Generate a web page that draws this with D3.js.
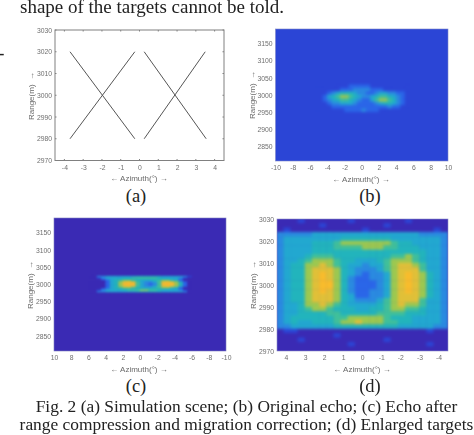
<!DOCTYPE html>
<html><head><meta charset="utf-8">
<script src="https://cdn.jsdelivr.net/npm/d3@7"></script>
<style>
html,body{margin:0;padding:0;background:#fff;overflow:hidden}
svg{display:block}
.tick text{font:6.8px "Liberation Sans",Arial,sans-serif;fill:#6f6f6f}
.lab{font:8px "Liberation Sans",Arial,sans-serif;fill:#6a6a6a}
.soft{filter:blur(.35px)}
.cap{font-family:"Liberation Serif","Times New Roman",serif;fill:#222}
</style></head><body>
<script>
// ---------- text ----------
const topLine = "shape of the targets cannot be told.";
const captionLines = ["Fig. 2 (a) Simulation scene; (b) Original echo; (c) Echo after",
                      "range compression and migration correction; (d) Enlarged targets"];
const xTitle = "\u2190 Azimuth(\u00b0) \u2192", yTitle = "Range(m)\u00a0\u00a0\u2192";

// ---------- panel (a): scatterer tracks ----------
const aXTicks = [-4,-3,-2,-1,0,1,2,3,4];
const aYTicks = [3030,3020,3010,3000,2990,2980,2970];
const aTrack1 = [[-3.7,3020],[-0.25,2980]];
const aTrack2 = [[-3.7,2980],[-0.25,3020]];
const aTrack3 = [[0.25,3020],[3.55,2980]];
const aTrack4 = [[0.25,2980],[3.5,3020]];

// ---------- shared colour levels ----------
const levelStops = [0,1,2,3,4,5,6,7,8,9];
const levelColours = ["#3a2ab4","#2b45d6","#2a66e8","#2a8ae0","#22a8d0","#22b4bc","#40c09a","#9cc850","#e0c038","#f8bc2c"];

// ---------- panel (b): original echo ----------
const bXTicks = [-10,-8,-6,-4,-2,0,2,4,6,8,10];
const rangeTicks = [3150,3100,3050,3000,2950,2900,2850];
const bBackground = 1;
const bAzimuthEdges = [-6,6];
const bRangeEdges = [3040,2940];
const bRows = [
"111111111111111111111111",
"111111111222221111111111",
"111111122233332221111111",
"111123455543322344332211",
"111245677654334566543211",
"111234566543224677653211",
"111123344432222345543211",
"111112222222222222322111",
"111111112222322211111111",
"111111111111111111111111"];

// ---------- panel (c): after compression ----------
const cXTicks = [10,8,6,4,2,0,-2,-4,-6,-8,-10];
const cBackground = 0;
const cAzimuthEdges = [6,-6];
const cRangeEdges = [3028,2972];
const cRows = [
"000000000000000000000000",
"003344444445555554444431",
"001344445566666654444310",
"000234555555555555544200",
"000024567765444567765200",
"000024578986433468987520",
"000024579996432369997520",
"000024579996432369997520",
"000024578986433468987520",
"000024567765444567765200",
"000234555555555555544200",
"001344445666776654444310",
"003344444445555554444430",
"000000000000000000000000"];

// ---------- panel (d): enlarged targets ----------
const dXTicks = [4,3,2,1,0,-1,-2,-3,-4];
const dBackground = 0;
const dAzimuthEdges = [4.5,-4.5];
const dRangeEdges = [3030,2970];
const dRows = [
"000100000010000000100000",
"000000100000000100000000",
"010000000000100000000010",
"333334444444444444443333",
"344444444555555544444443",
"344445556777777765544443",
"344445556666777665554443",
"344445555555555555555443",
"344456665555555566765443",
"344567776554445677765443",
"345577876544344678876443",
"345578887543334678886443",
"345578987543233478987543",
"345578987532233478987543",
"345578997532223478987543",
"345578997532223478987543",
"345578987532233478987543",
"345578887542233478887543",
"345578887543334678886443",
"344577876544445678776443",
"344567765554455677665443",
"344555566555556666555443",
"345555556677777655544443",
"345445556778777665544443",
"334444445555555554444433",
"011000000000000000000100",
"000000001000000000000000",
"000100000000000100000000",
"000000000010000000000100",
"000000000000000000000000"];

// ---------- page ----------
const W=474,H=435;
const svg=d3.select("body").append("svg").attr("width",W).attr("height",H);
const defs=svg.append("defs");
const colour=d3.scaleLinear().domain(levelStops).range(levelColours).clamp(true);
const tickText=d=>String(d);

function frame(box,xs,ys,xt,yt,tick,line){
  const g=svg.append("g").attr("class","soft");
  const ax=d3.axisBottom(xs).tickValues(xt).tickSize(0).tickPadding(box.xPad).tickFormat(tickText);
  const ay=d3.axisLeft(ys).tickValues(yt).tickSize(0).tickPadding(box.yPad).tickFormat(tickText);
  const gx=g.append("g").attr("transform",`translate(0,${box.y1})`).call(ax);
  const gy=g.append("g").attr("transform",`translate(${box.x0},0)`).call(ay);
  [gx,gy].forEach(s=>s.select(".domain").remove());
  // inward tick marks
  g.selectAll(null).data(xt).join("line").attr("x1",d=>xs(d)).attr("x2",d=>xs(d)).attr("y1",box.y1).attr("y2",box.y1-tick).attr("stroke",line);
  g.selectAll(null).data(xt).join("line").attr("x1",d=>xs(d)).attr("x2",d=>xs(d)).attr("y1",box.y0).attr("y2",box.y0+tick).attr("stroke",line);
  g.selectAll(null).data(yt).join("line").attr("x1",box.x0).attr("x2",box.x0+tick).attr("y1",d=>ys(d)).attr("y2",d=>ys(d)).attr("stroke",line);
  g.selectAll(null).data(yt).join("line").attr("x1",box.x1).attr("x2",box.x1-tick).attr("y1",d=>ys(d)).attr("y2",d=>ys(d)).attr("stroke",line);
  g.append("rect").attr("x",box.x0).attr("y",box.y0).attr("width",box.x1-box.x0).attr("height",box.y1-box.y0)
    .attr("fill","none").attr("stroke",line).attr("stroke-width",box.sw||1);
  g.append("text").attr("class","lab").attr("text-anchor","middle").attr("x",box.xlx).attr("y",box.xly).text(xTitle);
  g.append("text").attr("class","lab").attr("text-anchor","middle")
    .attr("transform",`translate(${box.ylx},${box.yly}) rotate(-90)`).text(yTitle);
  svg.append("text").attr("class","cap").attr("font-size",18.5).attr("text-anchor","middle")
    .attr("x",box.capX).attr("y",box.capY).text(box.cap);
}

function heat(id,box,xs,ys,azEdges,rgEdges,rows,bg,blur){
  const parsed=rows.map(r=>r.split("").map(Number));
  const az=d3.scaleLinear().domain([0,parsed[0].length]).range(azEdges);
  const rg=d3.scaleLinear().domain([0,parsed.length]).range(rgEdges);
  defs.append("clipPath").attr("id","clip"+id).append("rect")
    .attr("x",box.x0).attr("y",box.y0).attr("width",box.x1-box.x0).attr("height",box.y1-box.y0);
  const f=defs.append("filter").attr("id","blur"+id).attr("x","-10%").attr("y","-10%").attr("width","120%").attr("height","120%")
    .attr("color-interpolation-filters","sRGB");
  f.append("feGaussianBlur").attr("stdDeviation",blur);
  const outer=svg.append("g").attr("clip-path",`url(#clip${id})`);
  const inner=outer.append("g").attr("filter",`url(#blur${id})`);
  inner.append("rect").attr("x",box.x0-12).attr("y",box.y0-12).attr("width",box.x1-box.x0+24).attr("height",box.y1-box.y0+24).attr("fill",colour(bg));
  const cells=parsed.flatMap((row,r)=>row.map((v,c)=>({r,c,v})));
  inner.selectAll(null).data(cells).join("rect")
    .attr("x",d=>Math.min(xs(az(d.c)),xs(az(d.c+1)))-.2)
    .attr("y",d=>ys(rg(d.r))-.2)
    .attr("width",d=>Math.abs(xs(az(d.c+1))-xs(az(d.c)))+.4)
    .attr("height",d=>ys(rg(d.r+1))-ys(rg(d.r))+.4)
    .attr("fill",d=>colour(d.v));
}

// (a)
{
  const box={x0:55,x1:224,y0:30,y1:160.5,xPad:4.5,yPad:3,xlx:139,xly:181,ylx:34,yly:96,capX:136,capY:202,cap:"(a)"};
  const x=d3.scaleLinear().domain([-4.5,4.5]).range([box.x0,box.x1]);
  const y=d3.scaleLinear().domain([2970,3030]).range([box.y1,box.y0]);
  const l=d3.line().x(d=>x(d[0])).y(d=>y(d[1]));
  frame(box,x,y,aXTicks,aYTicks,1.5,"#808080");
  svg.append("g").attr("class","soft").selectAll("path").data([aTrack1,aTrack2,aTrack3,aTrack4]).join("path")
    .attr("d",l).attr("fill","none").attr("stroke","#555").attr("stroke-width",1);
}
// (b)
{
  const box={x0:275.5,x1:448,y0:29,y1:161,xPad:4.5,yPad:3,xlx:361,xly:182,ylx:255,yly:95,capX:370,capY:202,cap:"(b)",sw:.6};
  const x=d3.scaleLinear().domain([-10,10]).range([box.x0,box.x1]);
  const y=d3.scaleLinear().domain([2808,3192]).range([box.y1,box.y0]);
  heat("b",box,x,y,bAzimuthEdges,bRangeEdges,bRows,bBackground,1.5);
  frame(box,x,y,bXTicks,rangeTicks,0,"#7d86c8");
}
// (c)
{
  const box={x0:54,x1:226,y0:218,y1:351,xPad:4.5,yPad:3,xlx:139,xly:372,ylx:33,yly:285,capX:136,capY:392,cap:"(c)",sw:.6};
  const x=d3.scaleLinear().domain([10,-10]).range([box.x0,box.x1]);
  const y=d3.scaleLinear().domain([2806,3193]).range([box.y1,box.y0]);
  heat("c",box,x,y,cAzimuthEdges,cRangeEdges,cRows,cBackground,.8);
  frame(box,x,y,cXTicks,rangeTicks,0,"#7d7dc0");
}
// (d)
{
  const box={x0:277,x1:448,y0:219,y1:351,xPad:4.5,yPad:3,xlx:362,xly:372,ylx:256,yly:285,capX:370,capY:392,cap:"(d)",sw:.6};
  const x=d3.scaleLinear().domain([4.47,-4.5]).range([box.x0,box.x1]);
  const y=d3.scaleLinear().domain([2970,3030]).range([box.y1,box.y0]);
  heat("d",box,x,y,dAzimuthEdges,dRangeEdges,dRows,dBackground,1.5);
  frame(box,x,y,dXTicks,aYTicks,0,"#8f8fc8");
}

// surrounding text
svg.append("text").attr("class","cap").attr("font-size",19).attr("x",20).attr("y",13).text(topLine);
svg.append("text").attr("class","cap").attr("font-size",16).attr("x",-1).attr("y",59).attr("font-weight","bold").text("-");
svg.selectAll(null).data(captionLines).join("text").attr("class","cap").attr("font-size",17.4)
  .attr("text-anchor","middle").attr("x",246.5).attr("y",(d,i)=>i?430:411.5).text(d=>d);
</script>
</body></html>
